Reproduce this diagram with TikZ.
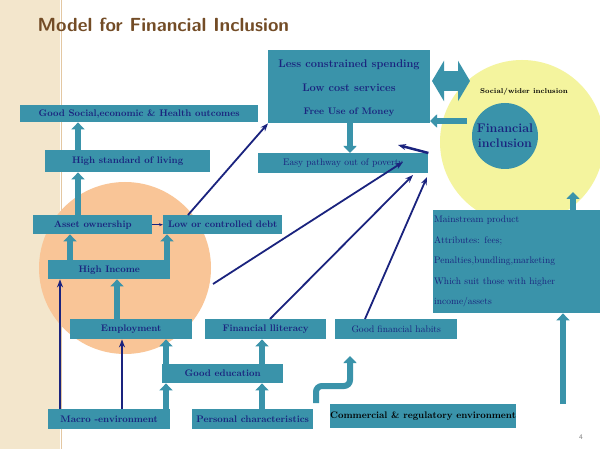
\documentclass[tikz,border=0pt]{standalone}
\usetikzlibrary{arrows.meta,positioning}
\definecolor{teal1}{HTML}{3A93AA}
\definecolor{navy1}{HTML}{1A237E}
\definecolor{peach}{HTML}{F9C597}
\definecolor{lemon}{HTML}{F4F49E}
\definecolor{paper}{HTML}{F3E6CC}
\tikzset{
  fbox/.style={fill=teal1,text=navy1,font=\bfseries\fontsize{9.5}{10}\selectfont,inner sep=0pt,anchor=north west},
  uparrow/.style={teal1,line width=6pt,-{Triangle[width=13pt,length=7pt]}},
  thinarrow/.style={navy1,line width=1.8pt,-{Stealth[length=8pt]}}
}
\begin{document}
\begin{tikzpicture}[x=1pt,y=-1pt]
  \useasboundingbox (0,0) rectangle (600,449);
  \fill[white] (0,0) rectangle (600,449);
  \fill[paper] (0,0) rectangle (60,449);
  \draw[paper!70!brown,line width=1pt] (61,0) -- (61,449);
  \node[anchor=west,font=\sffamily\bfseries\fontsize{19}{20}\selectfont,text=brown!60!black] (title) at (34,25) {Model for Financial Inclusion};

    % background circles
    \fill[peach] (125,268) circle (86);
    \fill[lemon] (522,142) circle (82);
    \node[font=\bfseries\fontsize{7}{7}\selectfont] (wider) at (524,92) {Social/wider inclusion};
    \node[circle,fill=teal1,text=navy1,minimum size=66pt,align=center,inner sep=0pt,font=\bfseries\fontsize{12.5}{15}\selectfont] (fin) at (505,136) {Financial\\inclusion};

    % boxes
    \node[fbox,minimum width=162pt,minimum height=73pt] (top) at (268,50) {};
    \node[text=navy1,font=\bfseries\fontsize{11}{12}\selectfont] (spend) at (349,65) {Less constrained spending};
    \node[text=navy1,font=\bfseries\fontsize{11}{12}\selectfont] (cost) at (349,88) {Low cost services};
    \node[text=navy1,font=\bfseries\fontsize{9.5}{10}\selectfont] (money) at (349,112) {Free Use of Money};
    \node[fbox,minimum width=238pt,minimum height=17pt] (good) at (20,105) {Good Social,economic \& Health outcomes};
    \node[fbox,minimum width=165pt,minimum height=22pt] (living) at (45,150) {High standard of living};
    \node[fbox,minimum width=170pt,minimum height=20pt,font=\fontsize{9.5}{10}\selectfont] (easy) at (258,153) {Easy pathway out of poverty};
    \node[fbox,minimum width=119pt,minimum height=19pt] (asset) at (33,215) {Asset ownership};
    \node[fbox,minimum width=119pt,minimum height=19pt] (debt) at (163,215) {Low or controlled debt};
    \node[fbox,minimum width=122pt,minimum height=19pt] (income) at (48,260) {High Income};
    \node[fbox,minimum width=167pt,minimum height=103pt,align=left,font=\fontsize{9.5}{20.5}\selectfont,text width=165pt,inner xsep=1pt] (main) at (433,210)
      {Mainstream product\\Attributes: fees;\\Penalties,bundling,marketing\\Which suit those with higher\\income/assets};
    \node[fbox,minimum width=122pt,minimum height=20pt] (employ) at (70,319) {Employment};
    \node[fbox,minimum width=121pt,minimum height=20pt] (literacy) at (205,319) {Financial lliteracy};
    \node[fbox,minimum width=122pt,minimum height=20pt,font=\fontsize{9.5}{10}\selectfont] (habits) at (335,319) {Good financial habits};
    \node[fbox,minimum width=121pt,minimum height=19pt] (educ) at (162,364) {Good education};
    \node[fbox,minimum width=122pt,minimum height=20pt] (macro) at (48,409) {Macro -environment};
    \node[fbox,minimum width=121pt,minimum height=20pt] (personal) at (192,409) {Personal characteristics};
    \node[fbox,minimum width=183pt,minimum height=24pt,text=black] (comm) at (330,404) {Commercial \& regulatory environment};
    \node[text=gray,font=\sffamily\fontsize{7}{7}\selectfont] (page) at (581,437) {4};

    % block arrows
    \draw[uparrow] (living.north -| 78,0) -- (good.south -| 78,0);
    \draw[uparrow] (asset.north -| 78,0) -- (living.south -| 78,0);
    \draw[uparrow] (income.north -| 70,0) -- (asset.south -| 70,0);
    \draw[uparrow] (income.north -| 167,0) -- (debt.south -| 167,0);
    \draw[uparrow] (employ.north -| 117,0) -- (income.south -| 117,0);
    \draw[uparrow] (educ.north -| 166,0) -- (employ.south -| 166,0);
    \draw[uparrow] (educ.north -| 262,0) -- (literacy.south -| 262,0);
    \draw[uparrow] (personal.north -| 166,0) -- (educ.south -| 166,0);
    \draw[uparrow] (personal.north -| 262,0) -- (educ.south -| 262,0);
    \draw[uparrow] (top.south -| 350,0) -- (easy.north -| 350,0);
    \draw[uparrow] (comm.north -| 563,0) -- (main.south -| 563,0);
    \draw[uparrow] (main.north -| 573,0) -- (573,192);
    \draw[uparrow] (467,121) -- (430,121);
    \draw[uparrow,line width=20pt,{Triangle[width=40pt,length=12pt]}-{Triangle[width=40pt,length=12pt]}] (432,81) -- (470,81);
    \draw[uparrow,rounded corners=6pt] (316,403) -- (316,386) -- (350,386) -- (350,356);
    \draw[navy1,line width=1.3pt,-{Stealth[length=4pt]}] (asset.east) -- (debt.west);

    % thin arrows
    \draw[thinarrow] (debt.north -| 188,0) -- (top.south west);
    \draw[thinarrow,line width=2.5pt] (easy.north east) -- (398,145);
    \draw[thinarrow] (213,284) -- (403,162);
    \draw[thinarrow] (literacy.north -| 270,0) -- (413,175);
    \draw[thinarrow] (habits.north -| 365,0) -- (427,177);
    \draw[thinarrow] (macro.north -| 60,0) -- (income.south -| 60,0);
    \draw[thinarrow] (macro.north -| 122,0) -- (employ.south -| 122,0);
\end{tikzpicture}
\end{document}
